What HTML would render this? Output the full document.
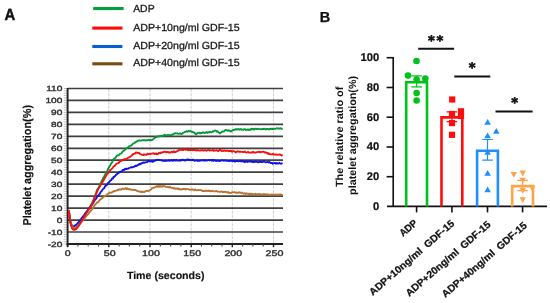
<!DOCTYPE html>
<html><head><meta charset="utf-8"><title>Figure</title>
<style>html,body{margin:0;padding:0;background:#fff;}svg{display:block;}</style></head>
<body>
<svg width="550" height="303" viewBox="0 0 550 303" text-rendering="geometricPrecision">
<rect width="550" height="303" fill="#fff"/>
<text x="0" y="0" transform="translate(4.6 20.2) scale(0.92 1)" font-family="Liberation Sans, sans-serif" font-weight="bold" font-size="16.2" fill="#111" stroke="#111" stroke-width="0.45">A</text>
<line x1="93.2" y1="8.55" x2="123.6" y2="8.55" stroke="#00a040" stroke-width="3.1"/>
<text x="133.2" y="12.0" font-family="Liberation Sans, sans-serif" font-size="10.3" fill="#1a1a1a" stroke="#1a1a1a" stroke-width="0.3" textLength="21.4" lengthAdjust="spacingAndGlyphs">ADP</text>
<line x1="92.3" y1="28.1" x2="122.5" y2="28.1" stroke="#ff0a0a" stroke-width="3.1"/>
<text x="133.2" y="30.6" font-family="Liberation Sans, sans-serif" font-size="10.3" fill="#1a1a1a" stroke="#1a1a1a" stroke-width="0.3" textLength="106.4" lengthAdjust="spacingAndGlyphs">ADP+10ng/ml GDF-15</text>
<line x1="92.3" y1="46.5" x2="122.4" y2="46.5" stroke="#0a5fd0" stroke-width="3.1"/>
<text x="133.2" y="49.2" font-family="Liberation Sans, sans-serif" font-size="10.3" fill="#1a1a1a" stroke="#1a1a1a" stroke-width="0.3" textLength="106.4" lengthAdjust="spacingAndGlyphs">ADP+20ng/ml GDF-15</text>
<line x1="92.3" y1="63.8" x2="122.4" y2="63.8" stroke="#7a4a12" stroke-width="3.1"/>
<text x="133.2" y="65.9" font-family="Liberation Sans, sans-serif" font-size="10.3" fill="#1a1a1a" stroke="#1a1a1a" stroke-width="0.3" textLength="106.4" lengthAdjust="spacingAndGlyphs">ADP+40ng/ml GDF-15</text>
<line x1="108.8" y1="89" x2="108.8" y2="243" stroke="#cfcfcf" stroke-width="1" stroke-dasharray="3,1.2"/>
<line x1="150.0" y1="89" x2="150.0" y2="243" stroke="#cfcfcf" stroke-width="1" stroke-dasharray="3,1.2"/>
<line x1="191.2" y1="89" x2="191.2" y2="243" stroke="#cfcfcf" stroke-width="1" stroke-dasharray="3,1.2"/>
<line x1="232.3" y1="89" x2="232.3" y2="243" stroke="#cfcfcf" stroke-width="1" stroke-dasharray="3,1.2"/>
<line x1="273.5" y1="89" x2="273.5" y2="243" stroke="#cfcfcf" stroke-width="1" stroke-dasharray="3,1.2"/>
<line x1="67.6" y1="232.0" x2="283" y2="232.0" stroke="#404040" stroke-width="1.7"/>
<line x1="67.6" y1="220.1" x2="283" y2="220.1" stroke="#404040" stroke-width="1.7"/>
<line x1="67.6" y1="208.1" x2="283" y2="208.1" stroke="#404040" stroke-width="1.7"/>
<line x1="67.6" y1="196.1" x2="283" y2="196.1" stroke="#404040" stroke-width="1.7"/>
<line x1="67.6" y1="184.2" x2="283" y2="184.2" stroke="#404040" stroke-width="1.7"/>
<line x1="67.6" y1="172.2" x2="283" y2="172.2" stroke="#404040" stroke-width="1.7"/>
<line x1="67.6" y1="160.2" x2="283" y2="160.2" stroke="#404040" stroke-width="1.7"/>
<line x1="67.6" y1="148.3" x2="283" y2="148.3" stroke="#404040" stroke-width="1.7"/>
<line x1="67.6" y1="136.3" x2="283" y2="136.3" stroke="#404040" stroke-width="1.7"/>
<line x1="67.6" y1="124.4" x2="283" y2="124.4" stroke="#404040" stroke-width="1.7"/>
<line x1="67.6" y1="112.4" x2="283" y2="112.4" stroke="#404040" stroke-width="1.7"/>
<line x1="67.6" y1="100.4" x2="283" y2="100.4" stroke="#404040" stroke-width="1.7"/>
<line x1="67.6" y1="88.5" x2="283" y2="88.5" stroke="#404040" stroke-width="1.7"/>
<line x1="63.8" y1="244.0" x2="67" y2="244.0" stroke="#b0b0b0" stroke-width="0.8"/>
<line x1="63.8" y1="241.6" x2="67" y2="241.6" stroke="#b0b0b0" stroke-width="0.8"/>
<line x1="63.8" y1="239.2" x2="67" y2="239.2" stroke="#b0b0b0" stroke-width="0.8"/>
<line x1="63.8" y1="236.8" x2="67" y2="236.8" stroke="#b0b0b0" stroke-width="0.8"/>
<line x1="63.8" y1="234.4" x2="67" y2="234.4" stroke="#b0b0b0" stroke-width="0.8"/>
<line x1="63.8" y1="232.0" x2="67" y2="232.0" stroke="#b0b0b0" stroke-width="0.8"/>
<line x1="63.8" y1="229.7" x2="67" y2="229.7" stroke="#b0b0b0" stroke-width="0.8"/>
<line x1="63.8" y1="227.3" x2="67" y2="227.3" stroke="#b0b0b0" stroke-width="0.8"/>
<line x1="63.8" y1="224.9" x2="67" y2="224.9" stroke="#b0b0b0" stroke-width="0.8"/>
<line x1="63.8" y1="222.5" x2="67" y2="222.5" stroke="#b0b0b0" stroke-width="0.8"/>
<line x1="63.8" y1="220.1" x2="67" y2="220.1" stroke="#b0b0b0" stroke-width="0.8"/>
<line x1="63.8" y1="217.7" x2="67" y2="217.7" stroke="#b0b0b0" stroke-width="0.8"/>
<line x1="63.8" y1="215.3" x2="67" y2="215.3" stroke="#b0b0b0" stroke-width="0.8"/>
<line x1="63.8" y1="212.9" x2="67" y2="212.9" stroke="#b0b0b0" stroke-width="0.8"/>
<line x1="63.8" y1="210.5" x2="67" y2="210.5" stroke="#b0b0b0" stroke-width="0.8"/>
<line x1="63.8" y1="208.1" x2="67" y2="208.1" stroke="#b0b0b0" stroke-width="0.8"/>
<line x1="63.8" y1="205.7" x2="67" y2="205.7" stroke="#b0b0b0" stroke-width="0.8"/>
<line x1="63.8" y1="203.3" x2="67" y2="203.3" stroke="#b0b0b0" stroke-width="0.8"/>
<line x1="63.8" y1="200.9" x2="67" y2="200.9" stroke="#b0b0b0" stroke-width="0.8"/>
<line x1="63.8" y1="198.5" x2="67" y2="198.5" stroke="#b0b0b0" stroke-width="0.8"/>
<line x1="63.8" y1="196.1" x2="67" y2="196.1" stroke="#b0b0b0" stroke-width="0.8"/>
<line x1="63.8" y1="193.8" x2="67" y2="193.8" stroke="#b0b0b0" stroke-width="0.8"/>
<line x1="63.8" y1="191.4" x2="67" y2="191.4" stroke="#b0b0b0" stroke-width="0.8"/>
<line x1="63.8" y1="189.0" x2="67" y2="189.0" stroke="#b0b0b0" stroke-width="0.8"/>
<line x1="63.8" y1="186.6" x2="67" y2="186.6" stroke="#b0b0b0" stroke-width="0.8"/>
<line x1="63.8" y1="184.2" x2="67" y2="184.2" stroke="#b0b0b0" stroke-width="0.8"/>
<line x1="63.8" y1="181.8" x2="67" y2="181.8" stroke="#b0b0b0" stroke-width="0.8"/>
<line x1="63.8" y1="179.4" x2="67" y2="179.4" stroke="#b0b0b0" stroke-width="0.8"/>
<line x1="63.8" y1="177.0" x2="67" y2="177.0" stroke="#b0b0b0" stroke-width="0.8"/>
<line x1="63.8" y1="174.6" x2="67" y2="174.6" stroke="#b0b0b0" stroke-width="0.8"/>
<line x1="63.8" y1="172.2" x2="67" y2="172.2" stroke="#b0b0b0" stroke-width="0.8"/>
<line x1="63.8" y1="169.8" x2="67" y2="169.8" stroke="#b0b0b0" stroke-width="0.8"/>
<line x1="63.8" y1="167.4" x2="67" y2="167.4" stroke="#b0b0b0" stroke-width="0.8"/>
<line x1="63.8" y1="165.0" x2="67" y2="165.0" stroke="#b0b0b0" stroke-width="0.8"/>
<line x1="63.8" y1="162.6" x2="67" y2="162.6" stroke="#b0b0b0" stroke-width="0.8"/>
<line x1="63.8" y1="160.2" x2="67" y2="160.2" stroke="#b0b0b0" stroke-width="0.8"/>
<line x1="63.8" y1="157.9" x2="67" y2="157.9" stroke="#b0b0b0" stroke-width="0.8"/>
<line x1="63.8" y1="155.5" x2="67" y2="155.5" stroke="#b0b0b0" stroke-width="0.8"/>
<line x1="63.8" y1="153.1" x2="67" y2="153.1" stroke="#b0b0b0" stroke-width="0.8"/>
<line x1="63.8" y1="150.7" x2="67" y2="150.7" stroke="#b0b0b0" stroke-width="0.8"/>
<line x1="63.8" y1="148.3" x2="67" y2="148.3" stroke="#b0b0b0" stroke-width="0.8"/>
<line x1="63.8" y1="145.9" x2="67" y2="145.9" stroke="#b0b0b0" stroke-width="0.8"/>
<line x1="63.8" y1="143.5" x2="67" y2="143.5" stroke="#b0b0b0" stroke-width="0.8"/>
<line x1="63.8" y1="141.1" x2="67" y2="141.1" stroke="#b0b0b0" stroke-width="0.8"/>
<line x1="63.8" y1="138.7" x2="67" y2="138.7" stroke="#b0b0b0" stroke-width="0.8"/>
<line x1="63.8" y1="136.3" x2="67" y2="136.3" stroke="#b0b0b0" stroke-width="0.8"/>
<line x1="63.8" y1="133.9" x2="67" y2="133.9" stroke="#b0b0b0" stroke-width="0.8"/>
<line x1="63.8" y1="131.5" x2="67" y2="131.5" stroke="#b0b0b0" stroke-width="0.8"/>
<line x1="63.8" y1="129.1" x2="67" y2="129.1" stroke="#b0b0b0" stroke-width="0.8"/>
<line x1="63.8" y1="126.7" x2="67" y2="126.7" stroke="#b0b0b0" stroke-width="0.8"/>
<line x1="63.8" y1="124.4" x2="67" y2="124.4" stroke="#b0b0b0" stroke-width="0.8"/>
<line x1="63.8" y1="122.0" x2="67" y2="122.0" stroke="#b0b0b0" stroke-width="0.8"/>
<line x1="63.8" y1="119.6" x2="67" y2="119.6" stroke="#b0b0b0" stroke-width="0.8"/>
<line x1="63.8" y1="117.2" x2="67" y2="117.2" stroke="#b0b0b0" stroke-width="0.8"/>
<line x1="63.8" y1="114.8" x2="67" y2="114.8" stroke="#b0b0b0" stroke-width="0.8"/>
<line x1="63.8" y1="112.4" x2="67" y2="112.4" stroke="#b0b0b0" stroke-width="0.8"/>
<line x1="63.8" y1="110.0" x2="67" y2="110.0" stroke="#b0b0b0" stroke-width="0.8"/>
<line x1="63.8" y1="107.6" x2="67" y2="107.6" stroke="#b0b0b0" stroke-width="0.8"/>
<line x1="63.8" y1="105.2" x2="67" y2="105.2" stroke="#b0b0b0" stroke-width="0.8"/>
<line x1="63.8" y1="102.8" x2="67" y2="102.8" stroke="#b0b0b0" stroke-width="0.8"/>
<line x1="63.8" y1="100.4" x2="67" y2="100.4" stroke="#b0b0b0" stroke-width="0.8"/>
<line x1="63.8" y1="98.0" x2="67" y2="98.0" stroke="#b0b0b0" stroke-width="0.8"/>
<line x1="63.8" y1="95.6" x2="67" y2="95.6" stroke="#b0b0b0" stroke-width="0.8"/>
<line x1="63.8" y1="93.2" x2="67" y2="93.2" stroke="#b0b0b0" stroke-width="0.8"/>
<line x1="63.8" y1="90.8" x2="67" y2="90.8" stroke="#b0b0b0" stroke-width="0.8"/>
<line x1="63.8" y1="88.5" x2="67" y2="88.5" stroke="#b0b0b0" stroke-width="0.8"/>
<line x1="66.6" y1="244.0" x2="283" y2="244.0" stroke="#222" stroke-width="1.9"/>
<line x1="67.6" y1="244.0" x2="67.6" y2="247.2" stroke="#222" stroke-width="1.4"/>
<line x1="77.9" y1="244.0" x2="77.9" y2="246.6" stroke="#444" stroke-width="1.1"/>
<line x1="88.2" y1="244.0" x2="88.2" y2="246.6" stroke="#444" stroke-width="1.1"/>
<line x1="98.5" y1="244.0" x2="98.5" y2="246.6" stroke="#444" stroke-width="1.1"/>
<line x1="108.8" y1="244.0" x2="108.8" y2="247.2" stroke="#222" stroke-width="1.4"/>
<line x1="119.1" y1="244.0" x2="119.1" y2="246.6" stroke="#444" stroke-width="1.1"/>
<line x1="129.4" y1="244.0" x2="129.4" y2="246.6" stroke="#444" stroke-width="1.1"/>
<line x1="139.7" y1="244.0" x2="139.7" y2="246.6" stroke="#444" stroke-width="1.1"/>
<line x1="150.0" y1="244.0" x2="150.0" y2="247.2" stroke="#222" stroke-width="1.4"/>
<line x1="160.3" y1="244.0" x2="160.3" y2="246.6" stroke="#444" stroke-width="1.1"/>
<line x1="170.6" y1="244.0" x2="170.6" y2="246.6" stroke="#444" stroke-width="1.1"/>
<line x1="180.9" y1="244.0" x2="180.9" y2="246.6" stroke="#444" stroke-width="1.1"/>
<line x1="191.2" y1="244.0" x2="191.2" y2="247.2" stroke="#222" stroke-width="1.4"/>
<line x1="201.5" y1="244.0" x2="201.5" y2="246.6" stroke="#444" stroke-width="1.1"/>
<line x1="211.7" y1="244.0" x2="211.7" y2="246.6" stroke="#444" stroke-width="1.1"/>
<line x1="222.0" y1="244.0" x2="222.0" y2="246.6" stroke="#444" stroke-width="1.1"/>
<line x1="232.3" y1="244.0" x2="232.3" y2="247.2" stroke="#222" stroke-width="1.4"/>
<line x1="242.6" y1="244.0" x2="242.6" y2="246.6" stroke="#444" stroke-width="1.1"/>
<line x1="252.9" y1="244.0" x2="252.9" y2="246.6" stroke="#444" stroke-width="1.1"/>
<line x1="263.2" y1="244.0" x2="263.2" y2="246.6" stroke="#444" stroke-width="1.1"/>
<line x1="273.5" y1="244.0" x2="273.5" y2="247.2" stroke="#222" stroke-width="1.4"/>
<line x1="67.6" y1="88" x2="67.6" y2="246.8" stroke="#222" stroke-width="1.9"/>
<text x="62.4" y="246.6" font-family="Liberation Sans, sans-serif" font-size="7.5" fill="#2a2a2a" stroke="#2a2a2a" stroke-width="0.35" text-anchor="end" transform="translate(62.4 0) scale(1.35 1) translate(-62.4 0)">-20</text>
<text x="62.4" y="234.6" font-family="Liberation Sans, sans-serif" font-size="7.5" fill="#2a2a2a" stroke="#2a2a2a" stroke-width="0.35" text-anchor="end" transform="translate(62.4 0) scale(1.35 1) translate(-62.4 0)">-10</text>
<text x="62.4" y="222.7" font-family="Liberation Sans, sans-serif" font-size="7.5" fill="#2a2a2a" stroke="#2a2a2a" stroke-width="0.35" text-anchor="end" transform="translate(62.4 0) scale(1.35 1) translate(-62.4 0)">0</text>
<text x="62.4" y="210.7" font-family="Liberation Sans, sans-serif" font-size="7.5" fill="#2a2a2a" stroke="#2a2a2a" stroke-width="0.35" text-anchor="end" transform="translate(62.4 0) scale(1.35 1) translate(-62.4 0)">10</text>
<text x="62.4" y="198.7" font-family="Liberation Sans, sans-serif" font-size="7.5" fill="#2a2a2a" stroke="#2a2a2a" stroke-width="0.35" text-anchor="end" transform="translate(62.4 0) scale(1.35 1) translate(-62.4 0)">20</text>
<text x="62.4" y="186.8" font-family="Liberation Sans, sans-serif" font-size="7.5" fill="#2a2a2a" stroke="#2a2a2a" stroke-width="0.35" text-anchor="end" transform="translate(62.4 0) scale(1.35 1) translate(-62.4 0)">30</text>
<text x="62.4" y="174.8" font-family="Liberation Sans, sans-serif" font-size="7.5" fill="#2a2a2a" stroke="#2a2a2a" stroke-width="0.35" text-anchor="end" transform="translate(62.4 0) scale(1.35 1) translate(-62.4 0)">40</text>
<text x="62.4" y="162.8" font-family="Liberation Sans, sans-serif" font-size="7.5" fill="#2a2a2a" stroke="#2a2a2a" stroke-width="0.35" text-anchor="end" transform="translate(62.4 0) scale(1.35 1) translate(-62.4 0)">50</text>
<text x="62.4" y="150.9" font-family="Liberation Sans, sans-serif" font-size="7.5" fill="#2a2a2a" stroke="#2a2a2a" stroke-width="0.35" text-anchor="end" transform="translate(62.4 0) scale(1.35 1) translate(-62.4 0)">60</text>
<text x="62.4" y="138.9" font-family="Liberation Sans, sans-serif" font-size="7.5" fill="#2a2a2a" stroke="#2a2a2a" stroke-width="0.35" text-anchor="end" transform="translate(62.4 0) scale(1.35 1) translate(-62.4 0)">70</text>
<text x="62.4" y="127.0" font-family="Liberation Sans, sans-serif" font-size="7.5" fill="#2a2a2a" stroke="#2a2a2a" stroke-width="0.35" text-anchor="end" transform="translate(62.4 0) scale(1.35 1) translate(-62.4 0)">80</text>
<text x="62.4" y="115.0" font-family="Liberation Sans, sans-serif" font-size="7.5" fill="#2a2a2a" stroke="#2a2a2a" stroke-width="0.35" text-anchor="end" transform="translate(62.4 0) scale(1.35 1) translate(-62.4 0)">90</text>
<text x="62.4" y="103.0" font-family="Liberation Sans, sans-serif" font-size="7.5" fill="#2a2a2a" stroke="#2a2a2a" stroke-width="0.35" text-anchor="end" transform="translate(62.4 0) scale(1.35 1) translate(-62.4 0)">100</text>
<text x="62.4" y="91.1" font-family="Liberation Sans, sans-serif" font-size="7.5" fill="#2a2a2a" stroke="#2a2a2a" stroke-width="0.35" text-anchor="end" transform="translate(62.4 0) scale(1.35 1) translate(-62.4 0)">110</text>
<text x="67.6" y="255.6" font-family="Liberation Sans, sans-serif" font-size="8.2" fill="#2a2a2a" stroke="#2a2a2a" stroke-width="0.35" text-anchor="middle" transform="translate(67.6 0) scale(1.3 1) translate(-67.6 0)">0</text>
<text x="109.8" y="255.6" font-family="Liberation Sans, sans-serif" font-size="8.2" fill="#2a2a2a" stroke="#2a2a2a" stroke-width="0.35" text-anchor="middle" transform="translate(109.8 0) scale(1.3 1) translate(-109.8 0)">50</text>
<text x="151.0" y="255.6" font-family="Liberation Sans, sans-serif" font-size="8.2" fill="#2a2a2a" stroke="#2a2a2a" stroke-width="0.35" text-anchor="middle" transform="translate(151.0 0) scale(1.3 1) translate(-151.0 0)">100</text>
<text x="192.2" y="255.6" font-family="Liberation Sans, sans-serif" font-size="8.2" fill="#2a2a2a" stroke="#2a2a2a" stroke-width="0.35" text-anchor="middle" transform="translate(192.2 0) scale(1.3 1) translate(-192.2 0)">150</text>
<text x="233.3" y="255.6" font-family="Liberation Sans, sans-serif" font-size="8.2" fill="#2a2a2a" stroke="#2a2a2a" stroke-width="0.35" text-anchor="middle" transform="translate(233.3 0) scale(1.3 1) translate(-233.3 0)">200</text>
<text x="274.5" y="255.6" font-family="Liberation Sans, sans-serif" font-size="8.2" fill="#2a2a2a" stroke="#2a2a2a" stroke-width="0.35" text-anchor="middle" transform="translate(274.5 0) scale(1.3 1) translate(-274.5 0)">250</text>
<text x="126.9" y="278.7" font-family="Liberation Sans, sans-serif" font-weight="bold" font-size="10.5" fill="#111" stroke="#111" stroke-width="0.15" textLength="77.6" lengthAdjust="spacingAndGlyphs">Time (seconds)</text>
<text transform="translate(30.8 225.6) rotate(-90)" x="0" y="0" font-family="Liberation Sans, sans-serif" font-weight="bold" font-size="11.4" fill="#111" stroke="#111" stroke-width="0.15" textLength="120.6" lengthAdjust="spacingAndGlyphs">Platelet aggregation(%)</text>
<path d="M68.9,210.2 69.7,218.3 70.5,222.9 71.3,225.4 72.1,227.6 72.9,228.0 73.7,228.5 74.5,228.4 75.3,228.1 76.1,227.7 76.9,226.7 77.7,225.8 78.5,224.8 79.3,223.8 80.1,222.6 80.9,221.4 81.7,220.2 82.5,219.0 83.3,217.7 84.1,216.3 84.9,215.0 85.7,213.7 86.5,212.3 87.3,211.0 88.1,209.7 88.9,208.4 89.7,207.0 90.5,205.7 91.3,204.3 92.1,203.0 92.9,201.2 93.7,199.0 94.5,196.8 95.3,194.8 96.1,192.8 96.9,190.3 97.7,188.8 98.5,187.8 99.3,186.3 100.1,184.0 100.9,182.6 101.7,180.9 102.5,179.8 103.3,177.7 104.1,176.6 104.9,175.3 105.7,173.3 106.5,172.3 107.3,170.7 108.1,168.6 108.9,167.7 109.7,166.0 110.5,164.8 111.3,163.3 112.1,162.4 112.9,160.8 113.7,159.1 114.5,158.5 115.3,158.0 116.1,156.7 116.9,155.8 117.7,155.2 118.5,155.2 119.3,154.7 120.1,153.8 120.9,153.5 121.7,152.9 122.5,151.8 123.3,150.8 124.1,150.7 124.9,149.9 125.7,149.0 126.5,148.3 127.3,147.9 128.1,147.4 128.9,146.6 129.7,146.0 130.5,145.6 131.3,145.5 132.1,144.7 132.9,143.8 133.7,143.3 134.5,143.0 135.3,142.3 136.1,141.8 136.9,141.6 137.7,140.7 138.5,140.8 139.3,140.3 140.1,140.6 140.9,140.6 141.7,140.4 142.5,140.4 143.3,140.0 144.1,140.4 144.9,140.1 145.7,140.5 146.5,140.3 147.3,140.4 148.1,139.8 148.9,139.8 149.7,140.4 150.5,139.7 151.3,140.4 152.1,140.0 152.9,139.4 153.7,138.6 154.5,138.2 155.3,137.4 156.1,137.1 156.9,137.0 157.7,136.7 158.5,136.4 159.3,136.2 160.1,136.4 160.9,135.7 161.7,136.3 162.5,135.8 163.3,135.4 164.1,135.3 164.9,134.6 165.7,135.4 166.5,135.3 167.3,135.1 168.1,134.9 168.9,135.3 169.7,135.2 170.5,135.1 171.3,135.4 172.1,134.8 172.9,134.2 173.7,134.1 174.5,133.4 175.3,133.1 176.1,133.4 176.9,133.3 177.7,133.7 178.5,133.8 179.3,133.7 180.1,133.4 180.9,133.9 181.7,134.0 182.5,133.5 183.3,132.8 184.1,132.5 184.9,131.9 185.7,131.6 186.5,131.2 187.3,131.8 188.1,131.4 188.9,130.9 189.7,131.3 190.5,131.0 191.3,131.3 192.1,132.0 192.9,132.0 193.7,132.3 194.5,132.7 195.3,133.8 196.1,134.4 196.9,133.6 197.7,133.0 198.5,132.8 199.3,132.6 200.1,133.4 200.9,132.9 201.7,133.2 202.5,132.4 203.3,132.4 204.1,132.9 204.9,133.0 205.7,132.4 206.5,132.0 207.3,132.8 208.1,132.1 208.9,132.5 209.7,131.8 210.5,132.3 211.3,132.3 212.1,132.0 212.9,131.3 213.7,131.5 214.5,130.6 215.3,130.5 216.1,130.8 216.9,131.7 217.7,131.3 218.5,132.5 219.3,132.8 220.1,133.4 220.9,132.5 221.7,131.9 222.5,131.4 223.3,131.6 224.1,131.3 224.9,130.5 225.7,129.9 226.5,129.9 227.3,130.7 228.1,130.9 228.9,130.3 229.7,130.6 230.5,131.5 231.3,131.4 232.1,130.5 232.9,130.2 233.7,130.0 234.5,129.8 235.3,129.1 236.1,129.6 236.9,129.2 237.7,129.5 238.5,128.9 239.3,129.7 240.1,129.5 240.9,129.0 241.7,129.7 242.5,129.6 243.3,129.8 244.1,129.1 244.9,129.2 245.7,130.0 246.5,129.7 247.3,129.8 248.1,129.3 248.9,130.1 249.7,129.5 250.5,129.8 251.3,128.8 252.1,129.2 252.9,128.7 253.7,129.6 254.5,129.1 255.3,128.7 256.1,128.7 256.9,129.2 257.7,128.7 258.5,128.9 259.3,129.1 260.1,129.1 260.9,129.2 261.7,129.2 262.5,128.9 263.3,129.1 264.1,128.7 264.9,128.9 265.7,129.5 266.5,128.9 267.3,129.0 268.1,129.1 268.9,129.5 269.7,128.8 270.5,128.7 271.3,129.1 272.1,128.6 272.9,129.1 273.7,129.0 274.5,128.7 275.3,128.8 276.1,128.5 276.9,128.1 277.7,128.5 278.5,128.5 279.3,128.7 280.1,128.2 280.9,128.3 281.7,128.9 282.5,128.3" fill="none" stroke="#009933" stroke-width="1.85" stroke-linejoin="round"/>
<path d="M68.9,210.2 69.7,217.3 70.5,221.7 71.3,224.3 72.1,225.6 72.9,226.3 73.7,226.4 74.5,225.9 75.3,225.4 76.1,224.9 76.9,224.0 77.7,223.1 78.5,222.3 79.3,221.4 80.1,220.3 80.9,219.2 81.7,218.1 82.5,217.0 83.3,216.0 84.1,215.0 84.9,213.9 85.7,212.9 86.5,211.9 87.3,210.8 88.1,209.7 88.9,208.6 89.7,207.7 90.5,206.7 91.3,205.7 92.1,204.8 92.9,203.5 93.7,202.1 94.5,200.7 95.3,199.2 96.1,198.8 96.9,197.0 97.7,195.9 98.5,195.5 99.3,194.3 100.1,193.4 100.9,191.7 101.7,191.1 102.5,189.6 103.3,188.8 104.1,188.3 104.9,186.5 105.7,185.8 106.5,185.5 107.3,184.5 108.1,183.0 108.9,182.3 109.7,181.4 110.5,180.4 111.3,180.1 112.1,178.5 112.9,178.5 113.7,176.7 114.5,176.8 115.3,175.7 116.1,174.7 116.9,174.3 117.7,173.4 118.5,173.2 119.3,171.8 120.1,171.7 120.9,171.7 121.7,171.4 122.5,170.2 123.3,169.8 124.1,170.1 124.9,169.1 125.7,168.6 126.5,169.1 127.3,168.6 128.1,168.7 128.9,168.1 129.7,167.9 130.5,167.5 131.3,167.1 132.1,167.5 132.9,167.0 133.7,166.8 134.5,166.6 135.3,165.6 136.1,166.1 136.9,165.7 137.7,165.0 138.5,164.8 139.3,164.0 140.1,164.4 140.9,163.4 141.7,163.5 142.5,162.8 143.3,162.4 144.1,162.8 144.9,162.4 145.7,162.3 146.5,162.2 147.3,162.1 148.1,160.8 148.9,161.2 149.7,161.2 150.5,161.4 151.3,161.3 152.1,161.5 152.9,161.9 153.7,161.1 154.5,160.8 155.3,160.6 156.1,159.8 156.9,160.2 157.7,159.9 158.5,159.9 159.3,159.8 160.1,160.1 160.9,160.1 161.7,160.5 162.5,160.6 163.3,160.9 164.1,160.6 164.9,161.0 165.7,160.5 166.5,160.8 167.3,160.6 168.1,160.6 168.9,160.2 169.7,160.9 170.5,160.7 171.3,160.0 172.1,160.4 172.9,160.9 173.7,159.9 174.5,160.1 175.3,160.6 176.1,159.8 176.9,160.5 177.7,160.3 178.5,160.5 179.3,160.3 180.1,160.7 180.9,160.0 181.7,160.2 182.5,159.6 183.3,160.2 184.1,160.0 184.9,160.6 185.7,160.5 186.5,159.6 187.3,159.5 188.1,159.5 188.9,159.6 189.7,160.2 190.5,160.0 191.3,160.1 192.1,160.0 192.9,159.6 193.7,160.1 194.5,160.8 195.3,160.7 196.1,160.5 196.9,160.1 197.7,161.0 198.5,160.5 199.3,160.8 200.1,160.4 200.9,160.5 201.7,160.4 202.5,160.4 203.3,160.0 204.1,160.7 204.9,160.1 205.7,160.5 206.5,160.5 207.3,160.5 208.1,160.1 208.9,160.0 209.7,160.5 210.5,160.1 211.3,159.9 212.1,160.8 212.9,159.8 213.7,160.8 214.5,160.2 215.3,160.4 216.1,161.0 216.9,160.5 217.7,160.8 218.5,160.5 219.3,161.1 220.1,160.9 220.9,160.7 221.7,160.2 222.5,160.5 223.3,160.7 224.1,160.5 224.9,160.7 225.7,160.4 226.5,160.7 227.3,160.7 228.1,160.9 228.9,161.0 229.7,161.0 230.5,160.7 231.3,160.7 232.1,161.2 232.9,160.7 233.7,161.2 234.5,161.5 235.3,161.5 236.1,161.1 236.9,160.9 237.7,161.2 238.5,161.4 239.3,161.2 240.1,161.1 240.9,161.3 241.7,160.9 242.5,161.3 243.3,161.2 244.1,161.8 244.9,162.2 245.7,161.4 246.5,161.3 247.3,162.0 248.1,161.6 248.9,161.7 249.7,161.2 250.5,161.3 251.3,161.9 252.1,161.7 252.9,162.0 253.7,162.2 254.5,161.5 255.3,161.9 256.1,161.7 256.9,161.8 257.7,161.8 258.5,162.4 259.3,162.0 260.1,161.4 260.9,162.0 261.7,162.2 262.5,162.1 263.3,161.7 264.1,161.1 264.9,162.0 265.7,162.3 266.5,162.2 267.3,162.0 268.1,162.0 268.9,162.6 269.7,162.0 270.5,163.0 271.3,163.0 272.1,162.8 272.9,163.8 273.7,163.3 274.5,163.0 275.3,163.0 276.1,163.7 276.9,162.9 277.7,163.5 278.5,163.6 279.3,162.8 280.1,163.3 280.9,163.7 281.7,163.4 282.5,163.9" fill="none" stroke="#1010ee" stroke-width="1.85" stroke-linejoin="round"/>
<path d="M68.9,210.2 69.7,217.7 70.5,222.0 71.3,224.4 72.1,226.6 72.9,227.2 73.7,227.8 74.5,227.9 75.3,227.7 76.1,227.4 76.9,226.7 77.7,226.0 78.5,225.3 79.3,224.6 80.1,223.6 80.9,222.7 81.7,221.7 82.5,220.8 83.3,219.8 84.1,218.9 84.9,217.9 85.7,216.9 86.5,216.0 87.3,215.0 88.1,214.1 88.9,213.1 89.7,212.1 90.5,211.1 91.3,210.2 92.1,209.2 92.9,208.0 93.7,206.7 94.5,205.4 95.3,204.2 96.1,203.7 96.9,202.5 97.7,202.5 98.5,201.7 99.3,200.7 100.1,199.7 100.9,199.0 101.7,198.7 102.5,197.6 103.3,197.4 104.1,196.6 104.9,196.0 105.7,195.5 106.5,195.5 107.3,194.3 108.1,193.8 108.9,193.2 109.7,192.6 110.5,192.7 111.3,192.7 112.1,192.3 112.9,191.5 113.7,191.1 114.5,191.4 115.3,190.8 116.1,190.6 116.9,190.4 117.7,189.6 118.5,190.2 119.3,189.2 120.1,189.5 120.9,189.7 121.7,189.1 122.5,188.7 123.3,189.0 124.1,189.0 124.9,188.6 125.7,188.1 126.5,189.1 127.3,188.3 128.1,189.1 128.9,189.5 129.7,188.9 130.5,189.5 131.3,189.9 132.1,189.6 132.9,189.9 133.7,189.8 134.5,190.0 135.3,190.0 136.1,190.3 136.9,190.9 137.7,191.0 138.5,191.4 139.3,191.5 140.1,191.9 140.9,191.5 141.7,192.2 142.5,191.5 143.3,191.9 144.1,192.2 144.9,191.6 145.7,191.2 146.5,190.9 147.3,190.8 148.1,191.1 148.9,190.8 149.7,190.1 150.5,189.8 151.3,189.1 152.1,188.1 152.9,187.9 153.7,187.8 154.5,187.4 155.3,187.1 156.1,186.7 156.9,186.1 157.7,186.8 158.5,185.9 159.3,186.8 160.1,185.9 160.9,186.8 161.7,186.2 162.5,186.7 163.3,185.8 164.1,186.4 164.9,186.3 165.7,186.8 166.5,186.9 167.3,186.8 168.1,187.1 168.9,187.5 169.7,186.7 170.5,187.4 171.3,187.8 172.1,187.9 172.9,187.7 173.7,188.6 174.5,188.1 175.3,188.9 176.1,188.6 176.9,188.3 177.7,189.2 178.5,188.4 179.3,189.3 180.1,189.2 180.9,189.6 181.7,189.5 182.5,189.1 183.3,188.9 184.1,189.0 184.9,188.8 185.7,189.6 186.5,189.0 187.3,189.1 188.1,189.2 188.9,189.4 189.7,189.8 190.5,189.6 191.3,189.7 192.1,189.3 192.9,189.7 193.7,189.6 194.5,190.2 195.3,189.5 196.1,190.2 196.9,190.4 197.7,190.2 198.5,189.8 199.3,190.1 200.1,190.1 200.9,190.2 201.7,190.2 202.5,191.1 203.3,190.9 204.1,191.0 204.9,190.9 205.7,190.5 206.5,191.2 207.3,190.8 208.1,190.5 208.9,191.1 209.7,190.6 210.5,191.3 211.3,191.3 212.1,190.8 212.9,191.1 213.7,191.4 214.5,191.4 215.3,191.3 216.1,191.0 216.9,191.2 217.7,191.7 218.5,191.5 219.3,191.8 220.1,191.9 220.9,191.6 221.7,191.4 222.5,192.1 223.3,191.8 224.1,192.1 224.9,191.7 225.7,191.8 226.5,192.2 227.3,192.6 228.1,192.0 228.9,192.8 229.7,193.0 230.5,192.8 231.3,192.9 232.1,192.3 232.9,192.2 233.7,192.4 234.5,192.2 235.3,192.5 236.1,192.9 236.9,192.4 237.7,193.0 238.5,192.5 239.3,192.2 240.1,192.9 240.9,192.7 241.7,192.7 242.5,193.1 243.3,193.7 244.1,193.5 244.9,193.2 245.7,194.0 246.5,193.3 247.3,193.6 248.1,193.7 248.9,194.5 249.7,193.5 250.5,194.2 251.3,194.1 252.1,193.7 252.9,194.2 253.7,194.4 254.5,194.4 255.3,193.7 256.1,194.5 256.9,194.0 257.7,194.6 258.5,194.3 259.3,193.8 260.1,194.6 260.9,194.4 261.7,194.3 262.5,194.5 263.3,194.4 264.1,193.9 264.9,194.9 265.7,194.3 266.5,194.3 267.3,194.1 268.1,194.8 268.9,195.1 269.7,194.6 270.5,195.0 271.3,194.5 272.1,194.6 272.9,194.5 273.7,194.6 274.5,194.9 275.3,194.6 276.1,194.4 276.9,195.1 277.7,194.7 278.5,194.7 279.3,194.5 280.1,194.3 280.9,194.9 281.7,194.6 282.5,195.1" fill="none" stroke="#b87333" stroke-width="1.85" stroke-linejoin="round"/>
<path d="M68.9,210.2 69.7,218.3 70.5,223.2 71.3,226.0 72.1,228.6 72.9,229.2 73.7,229.8 74.5,229.8 75.3,229.5 76.1,229.1 76.9,228.1 77.7,227.1 78.5,226.1 79.3,225.0 80.1,223.6 80.9,222.3 81.7,220.9 82.5,219.5 83.3,218.2 84.1,216.8 84.9,215.5 85.7,214.2 86.5,212.9 87.3,211.7 88.1,210.4 88.9,209.2 89.7,207.9 90.5,206.7 91.3,205.5 92.1,204.3 92.9,202.5 93.7,200.4 94.5,198.3 95.3,195.8 96.1,194.9 96.9,192.1 97.7,190.5 98.5,188.5 99.3,187.6 100.1,186.0 100.9,184.5 101.7,183.8 102.5,181.9 103.3,180.9 104.1,179.5 104.9,177.6 105.7,176.7 106.5,174.9 107.3,173.8 108.1,173.1 108.9,172.0 109.7,170.6 110.5,169.6 111.3,169.5 112.1,168.5 112.9,167.6 113.7,166.3 114.5,166.1 115.3,165.1 116.1,164.0 116.9,163.4 117.7,163.3 118.5,163.1 119.3,162.1 120.1,161.2 120.9,161.1 121.7,160.3 122.5,160.4 123.3,159.9 124.1,159.1 124.9,159.4 125.7,159.0 126.5,159.1 127.3,158.5 128.1,157.6 128.9,157.6 129.7,156.8 130.5,156.6 131.3,155.9 132.1,155.2 132.9,154.1 133.7,154.0 134.5,153.5 135.3,153.5 136.1,152.4 136.9,152.9 137.7,152.9 138.5,153.0 139.3,153.0 140.1,154.3 140.9,154.4 141.7,154.6 142.5,154.9 143.3,155.1 144.1,154.2 144.9,154.7 145.7,154.7 146.5,154.9 147.3,153.7 148.1,154.0 148.9,154.1 149.7,153.9 150.5,154.0 151.3,153.7 152.1,153.6 152.9,153.5 153.7,153.2 154.5,154.0 155.3,153.8 156.1,153.4 156.9,154.4 157.7,153.9 158.5,153.6 159.3,152.7 160.1,153.2 160.9,152.5 161.7,152.9 162.5,152.1 163.3,152.1 164.1,151.8 164.9,151.6 165.7,151.9 166.5,152.3 167.3,152.0 168.1,151.9 168.9,152.6 169.7,152.3 170.5,152.6 171.3,151.9 172.1,151.7 172.9,152.4 173.7,151.3 174.5,152.0 175.3,152.1 176.1,151.7 176.9,151.4 177.7,150.8 178.5,150.4 179.3,149.9 180.1,149.9 180.9,149.8 181.7,149.4 182.5,150.1 183.3,150.1 184.1,149.2 184.9,149.5 185.7,149.9 186.5,149.7 187.3,149.5 188.1,150.2 188.9,149.9 189.7,150.1 190.5,150.3 191.3,149.8 192.1,150.2 192.9,149.8 193.7,150.2 194.5,149.8 195.3,150.4 196.1,150.0 196.9,150.6 197.7,149.8 198.5,150.4 199.3,150.6 200.1,150.6 200.9,150.2 201.7,150.3 202.5,150.0 203.3,150.6 204.1,150.5 204.9,150.2 205.7,150.2 206.5,150.7 207.3,150.3 208.1,149.8 208.9,149.8 209.7,150.5 210.5,150.3 211.3,150.4 212.1,150.3 212.9,149.9 213.7,150.8 214.5,150.4 215.3,150.5 216.1,150.5 216.9,150.1 217.7,151.0 218.5,151.0 219.3,149.9 220.1,149.9 220.9,150.3 221.7,151.0 222.5,150.5 223.3,151.0 224.1,150.4 224.9,150.6 225.7,151.0 226.5,150.9 227.3,150.6 228.1,150.9 228.9,151.2 229.7,151.0 230.5,150.9 231.3,151.0 232.1,151.7 232.9,151.1 233.7,151.2 234.5,151.3 235.3,152.2 236.1,152.2 236.9,151.6 237.7,151.3 238.5,151.5 239.3,151.9 240.1,151.6 240.9,151.9 241.7,151.9 242.5,151.9 243.3,152.1 244.1,151.8 244.9,151.5 245.7,152.3 246.5,152.6 247.3,152.3 248.1,151.8 248.9,152.6 249.7,152.6 250.5,152.6 251.3,152.3 252.1,152.6 252.9,151.8 253.7,152.2 254.5,152.6 255.3,152.6 256.1,152.3 256.9,152.1 257.7,152.1 258.5,151.8 259.3,151.6 260.1,152.4 260.9,152.1 261.7,151.9 262.5,151.9 263.3,151.7 264.1,151.8 264.9,152.6 265.7,152.4 266.5,152.7 267.3,153.5 268.1,153.0 268.9,154.1 269.7,153.7 270.5,154.3 271.3,154.4 272.1,154.4 272.9,153.9 273.7,154.7 274.5,154.5 275.3,154.4 276.1,154.7 276.9,154.9 277.7,154.6 278.5,154.7 279.3,154.5 280.1,154.5 280.9,155.0 281.7,155.5 282.5,154.5" fill="none" stroke="#f51010" stroke-width="1.85" stroke-linejoin="round"/>
<text x="319.8" y="22.4" font-family="Liberation Sans, sans-serif" font-weight="bold" font-size="14.5" fill="#111" stroke="#111" stroke-width="0.3">B</text>
<line x1="393.2" y1="57" x2="393.2" y2="207" stroke="#111" stroke-width="1.6"/>
<line x1="387" y1="206.4" x2="547" y2="206.4" stroke="#111" stroke-width="1.6"/>
<line x1="386.6" y1="57.7" x2="393.2" y2="57.7" stroke="#111" stroke-width="1.6"/>
<line x1="386.6" y1="87.5" x2="393.2" y2="87.5" stroke="#111" stroke-width="1.6"/>
<line x1="386.6" y1="117.2" x2="393.2" y2="117.2" stroke="#111" stroke-width="1.6"/>
<line x1="386.6" y1="147.0" x2="393.2" y2="147.0" stroke="#111" stroke-width="1.6"/>
<line x1="386.6" y1="176.7" x2="393.2" y2="176.7" stroke="#111" stroke-width="1.6"/>
<text x="379.2" y="61.0" font-family="Liberation Sans, sans-serif" font-weight="bold" font-size="11.2" fill="#111" stroke="#111" stroke-width="0.2" text-anchor="end">100</text>
<text x="379.2" y="90.8" font-family="Liberation Sans, sans-serif" font-weight="bold" font-size="11.2" fill="#111" stroke="#111" stroke-width="0.2" text-anchor="end">80</text>
<text x="379.2" y="120.5" font-family="Liberation Sans, sans-serif" font-weight="bold" font-size="11.2" fill="#111" stroke="#111" stroke-width="0.2" text-anchor="end">60</text>
<text x="379.2" y="150.3" font-family="Liberation Sans, sans-serif" font-weight="bold" font-size="11.2" fill="#111" stroke="#111" stroke-width="0.2" text-anchor="end">40</text>
<text x="379.2" y="180.0" font-family="Liberation Sans, sans-serif" font-weight="bold" font-size="11.2" fill="#111" stroke="#111" stroke-width="0.2" text-anchor="end">20</text>
<text x="379.2" y="209.8" font-family="Liberation Sans, sans-serif" font-weight="bold" font-size="11.2" fill="#111" stroke="#111" stroke-width="0.2" text-anchor="end">0</text>
<line x1="416.6" y1="206.4" x2="416.6" y2="212.4" stroke="#111" stroke-width="1.6"/>
<line x1="451.9" y1="206.4" x2="451.9" y2="212.4" stroke="#111" stroke-width="1.6"/>
<line x1="487.5" y1="206.4" x2="487.5" y2="212.4" stroke="#111" stroke-width="1.6"/>
<line x1="522.6" y1="206.4" x2="522.6" y2="212.4" stroke="#111" stroke-width="1.6"/>
<text transform="translate(343.3 187.1) rotate(-90)" font-family="Liberation Sans, sans-serif" font-weight="bold" font-size="10.5" fill="#111" textLength="100.5" lengthAdjust="spacingAndGlyphs">The relative ratio of</text>
<text transform="translate(355.6 194.9) rotate(-90)" font-family="Liberation Sans, sans-serif" font-weight="bold" font-size="10.5" fill="#111" textLength="119" lengthAdjust="spacingAndGlyphs">platelet aggregation(%)</text>
<path d="M406.20000000000005,206.4 V82.3 H427.0 V206.4" fill="none" stroke="#00c21a" stroke-width="2.6"/>
<path d="M441.5,206.4 V117.4 H462.29999999999995 V206.4" fill="none" stroke="#ff0d0d" stroke-width="2.6"/>
<path d="M477.1,206.4 V150.7 H497.9 V206.4" fill="none" stroke="#1e8fff" stroke-width="2.6"/>
<path d="M512.2,206.4 V186.1 H533.0 V206.4" fill="none" stroke="#ffa446" stroke-width="2.6"/>
<circle cx="416.5" cy="61" r="3.3" fill="#00c21a"/>
<circle cx="408" cy="75.6" r="3.3" fill="#00c21a"/>
<circle cx="416.6" cy="79.5" r="3.3" fill="#00c21a"/>
<circle cx="425.3" cy="78.6" r="3.3" fill="#00c21a"/>
<circle cx="416.6" cy="93" r="3.3" fill="#00c21a"/>
<circle cx="416.6" cy="100.5" r="3.3" fill="#00c21a"/>
<rect x="449.09999999999997" y="96.4" width="6.2" height="6.2" fill="#ff0d0d"/>
<rect x="457.9" y="108.2" width="6.2" height="6.2" fill="#ff0d0d"/>
<rect x="448.9" y="110.9" width="6.2" height="6.2" fill="#ff0d0d"/>
<rect x="457.9" y="112.9" width="6.2" height="6.2" fill="#ff0d0d"/>
<rect x="448.9" y="120.0" width="6.2" height="6.2" fill="#ff0d0d"/>
<rect x="448.9" y="131.70000000000002" width="6.2" height="6.2" fill="#ff0d0d"/>
<path d="M484.3,124.8 L490.90000000000003,124.8 L487.6,119 Z" fill="#1e8fff"/>
<path d="M493.0,133.8 L499.6,133.8 L496.3,128 Z" fill="#1e8fff"/>
<path d="M484.3,138.3 L490.90000000000003,138.3 L487.6,132.5 Z" fill="#1e8fff"/>
<path d="M484.3,154.8 L490.90000000000003,154.8 L487.6,149 Z" fill="#1e8fff"/>
<path d="M484.3,175.8 L490.90000000000003,175.8 L487.6,170 Z" fill="#1e8fff"/>
<path d="M484.3,192.3 L490.90000000000003,192.3 L487.6,186.5 Z" fill="#1e8fff"/>
<path d="M510.59999999999997,172.0 L517.0,172.0 L513.8,177.8 Z" fill="#ffa446"/>
<path d="M519.5,170.6 L525.9000000000001,170.6 L522.7,176.4 Z" fill="#ffa446"/>
<path d="M519.5,177.79999999999998 L525.9000000000001,177.79999999999998 L522.7,183.6 Z" fill="#ffa446"/>
<path d="M519.5,187.89999999999998 L525.9000000000001,187.89999999999998 L522.7,193.7 Z" fill="#ffa446"/>
<path d="M519.5,197.2 L525.9000000000001,197.2 L522.7,203 Z" fill="#ffa446"/>
<path d="M529.0999999999999,185.7 L535.5,185.7 L532.3,191.5 Z" fill="#ffa446"/>
<path d="M416.6,75.8 V86.8 M411.3,75.8 H421.90000000000003 M411.3,86.8 H421.90000000000003" fill="none" stroke="#00c21a" stroke-width="1.2"/>
<path d="M451.9,111.8 V121.7 M446.59999999999997,111.8 H457.2 M446.59999999999997,121.7 H457.2" fill="none" stroke="#ff0d0d" stroke-width="1.2"/>
<path d="M487.5,139.5 V160.1 M482.2,139.5 H492.8 M482.2,160.1 H492.8" fill="none" stroke="#1e8fff" stroke-width="1.2"/>
<path d="M522.6,180.3 V190.6 M517.3000000000001,180.3 H527.9 M517.3000000000001,190.6 H527.9" fill="none" stroke="#ffa446" stroke-width="1.2"/>
<line x1="418.2" y1="48.8" x2="454.1" y2="48.8" stroke="#111" stroke-width="2"/>
<text x="436.6" y="44.9" font-family="DejaVu Sans, sans-serif" font-weight="bold" font-size="13" fill="#111" stroke="#111" stroke-width="0.7" stroke-linejoin="round" text-anchor="middle" letter-spacing="1.7">**</text>
<line x1="454.3" y1="76.5" x2="490.3" y2="76.5" stroke="#111" stroke-width="2"/>
<text x="472.2" y="71.8" font-family="DejaVu Sans, sans-serif" font-weight="bold" font-size="13" fill="#111" stroke="#111" stroke-width="0.7" stroke-linejoin="round" text-anchor="middle">*</text>
<line x1="495.5" y1="111.5" x2="532.6" y2="111.5" stroke="#111" stroke-width="2"/>
<text x="514.6" y="107.3" font-family="DejaVu Sans, sans-serif" font-weight="bold" font-size="13" fill="#111" stroke="#111" stroke-width="0.7" stroke-linejoin="round" text-anchor="middle">*</text>
<text transform="translate(418.0 224.0) rotate(-41)" x="-20" font-family="Liberation Sans, sans-serif" font-weight="bold" font-size="10" word-spacing="2.5" fill="#111" stroke="#111" stroke-width="0.25" textLength="20" lengthAdjust="spacingAndGlyphs">ADP</text>
<text transform="translate(455.1 224.5) rotate(-41)" x="-109" font-family="Liberation Sans, sans-serif" font-weight="bold" font-size="10" word-spacing="2.5" fill="#111" stroke="#111" stroke-width="0.25" textLength="109" lengthAdjust="spacingAndGlyphs">ADP+10ng/ml GDF-15</text>
<text transform="translate(491.4 225.5) rotate(-41)" x="-109" font-family="Liberation Sans, sans-serif" font-weight="bold" font-size="10" word-spacing="2.5" fill="#111" stroke="#111" stroke-width="0.25" textLength="109" lengthAdjust="spacingAndGlyphs">ADP+20ng/ml GDF-15</text>
<text transform="translate(527.6 226.5) rotate(-41)" x="-109" font-family="Liberation Sans, sans-serif" font-weight="bold" font-size="10" word-spacing="2.5" fill="#111" stroke="#111" stroke-width="0.25" textLength="109" lengthAdjust="spacingAndGlyphs">ADP+40ng/ml GDF-15</text>
</svg>
</body></html>
